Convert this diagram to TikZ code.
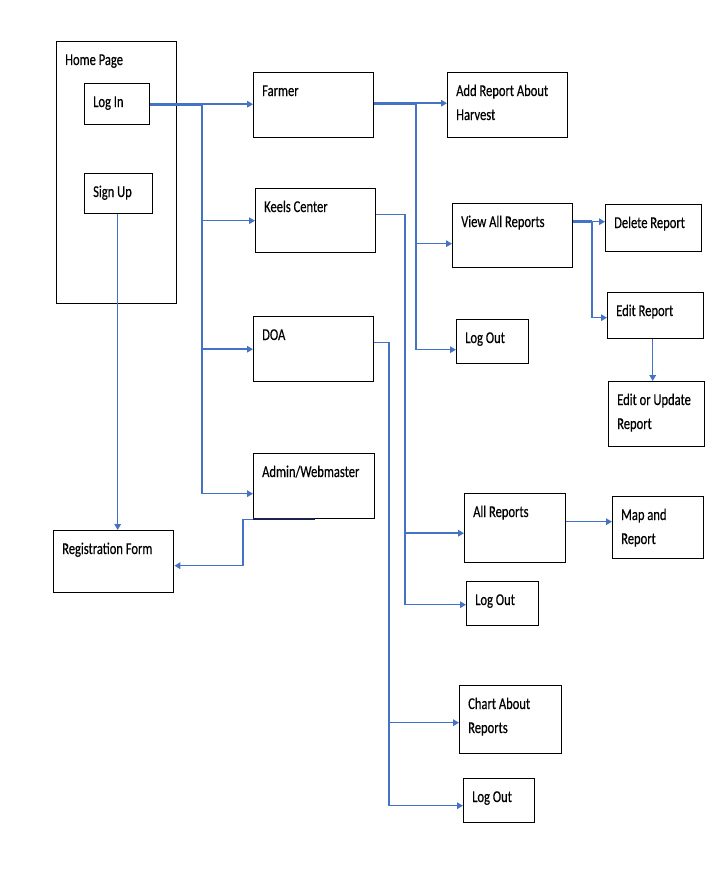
\documentclass[tikz,border=0pt]{standalone}
\usepackage{fontspec}
\setmainfont[FakeStretch=0.76,FakeBold=0.4]{Carlito}
\usetikzlibrary{arrows.meta}
\definecolor{conn}{RGB}{68,114,196}
\definecolor{navyline}{RGB}{25,35,75}
\tikzset{
  boxst/.style={draw=black, line width=1.4pt, rectangle, inner sep=0pt, anchor=north west},
  txt/.style={anchor=base west, inner sep=0pt, font=\fontsize{16.5}{19}\selectfont},
  conline/.style={draw=conn, line width=1.5pt},
  arr/.style={conline, -{Triangle[length=6pt,width=6.5pt]}},
  thickline/.style={draw=conn, line width=2.8pt},
}
\newcommand\bx[7]{%
  \node[boxst, minimum width={(#4-#2)*1pt}, minimum height={(#5-#3)*1pt}] (#1) at (#2,#3) {};
  \node[txt] (#1-a) at ([xshift=9pt,yshift=-24pt]#1.north west) {#6};
  \if\relax\detokenize{#7}\relax\else
  \node[txt] (#1-b) at ([xshift=9pt,yshift=-48pt]#1.north west) {#7};\fi}
\begin{document}
\begin{tikzpicture}[x=1pt,y=-1pt]
\fill[white] (0,0) rectangle (718,883);
\useasboundingbox (0,0) rectangle (718,883);
% boxes
\bx{home}{56}{41}{176}{303}{Home Page}{}
\bx{login}{84}{83}{149}{124}{Log In}{}
\bx{signup}{84}{173}{152}{213}{Sign Up}{}
\bx{farmer}{253}{72}{373}{137}{Farmer}{}
\bx{keels}{255}{188}{375}{252}{Keels Center}{}
\bx{doa}{253}{316}{373}{381}{DOA}{}
\bx{admin}{253}{453}{374}{518}{Admin/Webmaster}{}
\bx{regform}{53}{530}{173}{592}{Registration Form}{}
\bx{addrep}{447}{72}{567}{137}{Add Report About}{Harvest}
\bx{view}{452}{203}{572}{267}{View All Reports}{}
\bx{logout1}{456}{319}{528}{363}{Log Out}{}
\bx{delete}{605}{204}{701}{251}{Delete Report}{}
\bx{edit}{607}{292}{703}{338}{Edit Report}{}
\bx{eou}{608}{381}{704}{446}{Edit or Update}{Report}
\bx{allrep}{464}{493}{565}{562}{All Reports}{}
\bx{map}{612}{496}{703}{558}{Map and}{Report}
\bx{logout2}{466}{581}{538}{625}{Log Out}{}
\bx{chart}{459}{685}{561}{753}{Chart About}{Reports}
\bx{logout3}{463}{778}{534}{822}{Log Out}{}
% bus positions
\coordinate (busA) at (202,0);
\coordinate (busB) at (416,0);
\coordinate (busC) at (405,0);
\coordinate (busD) at (389,0);
\coordinate (busE) at (592,0);
\coordinate (busF) at (243,0);
% Log In trunk
\draw[thickline] (login.east) -- (login.east -| busA) -- ([yshift=-7.5pt]admin.west -| busA);
\draw[arr] (login.east -| busA) -- (login.east -| farmer.west);
\draw[arr] (keels.west -| busA) -- (keels.west);
\draw[arr] (doa.west -| busA) -- (doa.west);
\draw[arr] ([yshift=-7.5pt]admin.west -| busA) -- ([yshift=-7.5pt]admin.west);
% Sign Up -> Registration
\draw[arr] ([xshift=-1pt]signup.south) -- ([xshift=-1pt]signup.south |- regform.north);
% Admin -> Registration
\draw[arr] (admin.south west) -- (admin.south west -| busF) |- ([yshift=-4pt]regform.east);
\draw[navyline, line width=2pt] (admin.south west) -- ([xshift=62pt]admin.south west);
% Farmer
\draw[thickline] ([yshift=2pt]farmer.east) -- ([yshift=2pt]farmer.east -| busB);
\draw[arr] ([yshift=2pt]farmer.east -| busB) -- ([yshift=2pt]addrep.west);
\draw[conline] ([yshift=2pt]farmer.east -| busB) -- ([yshift=-8pt]logout1.west -| busB);
\draw[arr] ([yshift=-8pt]view.west -| busB) -- ([yshift=-8pt]view.west);
\draw[arr] ([yshift=-8pt]logout1.west -| busB) -- ([yshift=-8pt]logout1.west);
% Keels Center
\draw[conline] ([yshift=6pt]keels.east) -- ([yshift=6pt]keels.east -| busC) -- ([yshift=-1pt]logout2.west -| busC);
\draw[arr] ([yshift=-5pt]allrep.west -| busC) -- ([yshift=-5pt]allrep.west);
\draw[arr] ([yshift=-1pt]logout2.west -| busC) -- ([yshift=-1pt]logout2.west);
% DOA
\draw[conline] ([yshift=6.5pt]doa.east) -- ([yshift=6.5pt]doa.east -| busD) -- ([yshift=-5pt]logout3.west -| busD);
\draw[arr] ([yshift=-3pt]chart.west -| busD) -- ([yshift=-3pt]chart.west);
\draw[arr] ([yshift=-5pt]logout3.west -| busD) -- ([yshift=-5pt]logout3.west);
% View All Reports
\draw[thickline] ([yshift=6.5pt]delete.west -| view.east) -- ([yshift=6.5pt]delete.west -| busE);
\draw[arr] ([yshift=6.5pt]delete.west -| busE) -- ([yshift=6.5pt]delete.west);
\draw[arr] ([yshift=6.5pt]delete.west -| busE) |- ([yshift=-2pt]edit.west);
% Edit -> Edit or Update
\draw[arr] ([xshift=-3pt]edit.south) -- ([xshift=-3pt]edit.south |- eou.north);
% All Reports -> Map
\draw[arr] ([yshift=6.5pt]allrep.east) -- ([yshift=6.5pt]allrep.east -| map.west);
\end{tikzpicture}
\end{document}
